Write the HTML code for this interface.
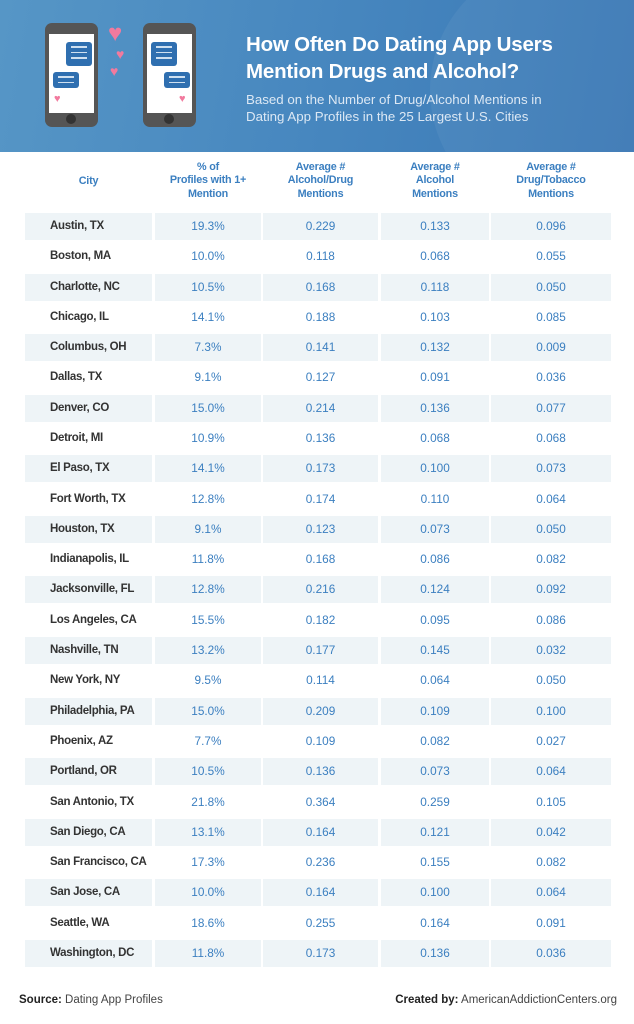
<!DOCTYPE html>
<html><head><meta charset="utf-8"><style>
*{margin:0;padding:0;box-sizing:border-box}
body{width:634px;height:1024px;background:#fff;font-family:"Liberation Sans",sans-serif;position:relative;overflow:hidden}
.hdr{position:absolute;left:0;top:0;width:634px;height:152px;background:linear-gradient(100deg,#5696c6 0%,#4787bf 50%,#3a78b5 100%);overflow:hidden}
.t{position:absolute;color:#fff;font-weight:bold;font-size:20.5px;left:246px;top:31px;line-height:27px;letter-spacing:-0.2px}
.s{position:absolute;color:#dce8f4;font-size:13.3px;left:246px;top:91px;line-height:17px}
.ph{position:absolute;width:53px;height:104px;background:#555;border-radius:7px;top:23px}
.sc{position:absolute;left:4px;top:11px;width:45px;height:79px;background:#fff}
.btn{position:absolute;left:21px;bottom:3px;width:10px;height:10px;border-radius:50%;background:#333}
.bub{position:absolute;background:#2f6fb0;border-radius:3px}
.bub i{display:block;height:1.5px;background:#cfe0f0;margin:4px 5px 0}
.heart{position:absolute;color:#f27a9e;line-height:1}
.c{position:absolute;height:27px;background:#eef4f7;font-size:11.8px;color:#3b7fc0;text-align:center;line-height:27px;white-space:nowrap}
.c.n{color:#333;font-weight:bold;text-align:left;padding-left:25px;font-size:11.5px;letter-spacing:-0.3px}
.h{position:absolute;top:161px;color:#3b7fc0;font-weight:bold;font-size:10.8px;text-align:center;line-height:13.3px;letter-spacing:-0.2px}
.f{position:absolute;top:994px;font-size:11.5px;color:#444}
.f b{color:#222}
</style></head><body>
<div class="hdr">
<div style="position:absolute;left:430px;top:-40px;width:260px;height:260px;border-radius:50%;background:rgba(255,255,255,0.05)"></div>
<div class="ph" style="left:45px"><div class="sc">
<div class="bub" style="left:17px;top:8px;width:26px;height:24px"><i></i><i></i><i></i></div>
<div class="bub" style="left:4px;top:38px;width:26px;height:16px"><i></i><i></i></div>
<div class="heart" style="left:5px;top:60px;font-size:11px">♥</div>
</div><div class="btn"></div></div>
<div class="ph" style="left:143px"><div class="sc">
<div class="bub" style="left:4px;top:8px;width:26px;height:24px"><i></i><i></i><i></i></div>
<div class="bub" style="left:17px;top:38px;width:26px;height:16px"><i></i><i></i></div>
<div class="heart" style="left:32px;top:60px;font-size:11px">♥</div>
</div><div class="btn"></div></div>
<div class="heart" style="left:108px;top:22px;font-size:24px">♥</div>
<div class="heart" style="left:116px;top:47px;font-size:14px">♥</div>
<div class="heart" style="left:110px;top:64px;font-size:14px">♥</div>
<div class="t">How Often Do Dating App Users<br>Mention Drugs and Alcohol?</div>
<div class="s">Based on the Number of Drug/Alcohol Mentions in<br>Dating App Profiles in the 25 Largest U.S. Cities</div>
</div>
<div class="h" style="left:25px;width:127px;top:175px">City</div>
<div class="h" style="left:155px;width:106px">% of<br>Profiles with 1+<br>Mention</div>
<div class="h" style="left:263px;width:115px">Average #<br>Alcohol/Drug<br>Mentions</div>
<div class="h" style="left:381px;width:108px">Average #<br>Alcohol<br>Mentions</div>
<div class="h" style="left:491px;width:120px">Average #<br>Drug/Tobacco<br>Mentions</div>
<div id="rows"></div>
<div class="f" style="left:19px"><b>Source:</b> Dating App Profiles</div>
<div class="f" style="right:17px"><b>Created by:</b> AmericanAddictionCenters.org</div>
<script>
var d=[["Austin, TX","19.3%","0.229","0.133","0.096"],["Boston, MA","10.0%","0.118","0.068","0.055"],["Charlotte, NC","10.5%","0.168","0.118","0.050"],["Chicago, IL","14.1%","0.188","0.103","0.085"],["Columbus, OH","7.3%","0.141","0.132","0.009"],["Dallas, TX","9.1%","0.127","0.091","0.036"],["Denver, CO","15.0%","0.214","0.136","0.077"],["Detroit, MI","10.9%","0.136","0.068","0.068"],["El Paso, TX","14.1%","0.173","0.100","0.073"],["Fort Worth, TX","12.8%","0.174","0.110","0.064"],["Houston, TX","9.1%","0.123","0.073","0.050"],["Indianapolis, IL","11.8%","0.168","0.086","0.082"],["Jacksonville, FL","12.8%","0.216","0.124","0.092"],["Los Angeles, CA","15.5%","0.182","0.095","0.086"],["Nashville, TN","13.2%","0.177","0.145","0.032"],["New York, NY","9.5%","0.114","0.064","0.050"],["Philadelphia, PA","15.0%","0.209","0.109","0.100"],["Phoenix, AZ","7.7%","0.109","0.082","0.027"],["Portland, OR","10.5%","0.136","0.073","0.064"],["San Antonio, TX","21.8%","0.364","0.259","0.105"],["San Diego, CA","13.1%","0.164","0.121","0.042"],["San Francisco, CA","17.3%","0.236","0.155","0.082"],["San Jose, CA","10.0%","0.164","0.100","0.064"],["Seattle, WA","18.6%","0.255","0.164","0.091"],["Washington, DC","11.8%","0.173","0.136","0.036"]];
var cols=[[25,127],[155,106],[263,115],[381,108],[491,120]];var h="";
d.forEach(function(r,i){var y=Math.round(213+i*30.29);var bg=i%2==0?"#eef4f7":"transparent";
r.forEach(function(v,j){h+='<div class="c'+(j==0?' n':'')+'" style="left:'+cols[j][0]+'px;width:'+cols[j][1]+'px;top:'+y+'px;background:'+bg+'">'+v+'</div>';});});
document.getElementById("rows").innerHTML=h;
</script>
</body></html>
